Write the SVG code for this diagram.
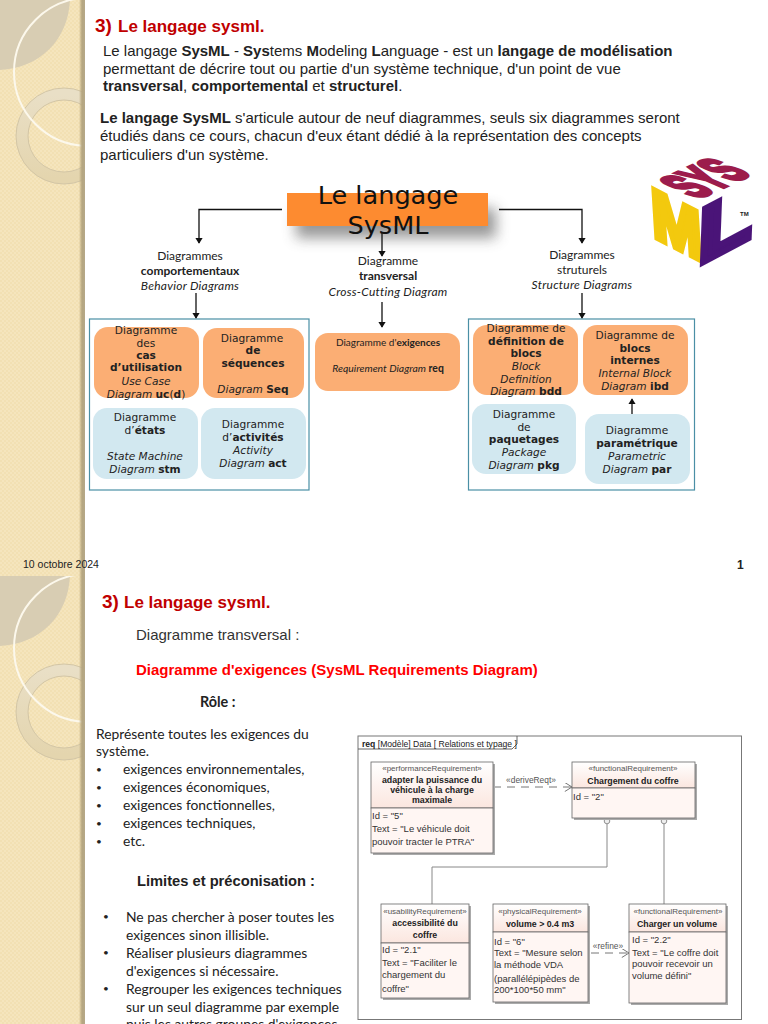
<svg xmlns="http://www.w3.org/2000/svg" width="768" height="1024" viewBox="0 0 768 1024">
<style>
text{font-family:"Liberation Sans",Arial,sans-serif;fill:#222}
.t{font-size:15px}
.red{fill:#c00000;font-weight:bold}
.n text{font-family:"DejaVu Sans",sans-serif;font-size:10.6px;text-anchor:middle;fill:#222}
.l text{font-family:Lato,"Open Sans",sans-serif;font-size:12px;text-anchor:middle;fill:#222}
.l text.i{font-style:italic;font-size:12px;letter-spacing:.25px}
.c{font-size:13.85px;font-family:Lato,"Open Sans",sans-serif}
.u{font-size:10px}
.o{fill:#fbae74}.b{fill:#d2e8f0}
.fr{fill:none;stroke:#4a8fa5;stroke-width:1.2}
.con{fill:none;stroke:#111;stroke-width:1.3}
.da{fill:none;stroke:#777;stroke-dasharray:8 6}
.so{fill:none;stroke:#888}
.pl{fill:#eee;stroke:#777;stroke-width:.8}
.rq rect.s{fill:#aaa}
.rq rect.h{fill:url(#pk);stroke:#666;stroke-width:.8}
.rq rect.w{fill:#fff6f3;stroke:#666;stroke-width:.8}
.rq text{font-size:9.5px;fill:#333}
.rq .m{text-anchor:middle}
.rq .st{font-size:8px;fill:#555}
.rq .bd{font-weight:bold;font-size:8.8px;fill:#222}
.ll{font-size:8.4px;text-anchor:middle;fill:#555}
</style>
<defs>
<pattern id="dots" width="4" height="4" patternUnits="userSpaceOnUse"><rect width="4" height="4" fill="#f5e5bd"/><rect width="2" height="2" fill="#f2e0b3"/><rect x="2" y="2" width="2" height="2" fill="#f2e0b3"/></pattern>
<linearGradient id="edge" x1="0" x2="1" y1="0" y2="0"><stop offset="0" stop-color="#b09c70" stop-opacity="0"/><stop offset=".5" stop-color="#b5a680"/><stop offset="1" stop-color="#b5a888"/></linearGradient>
<linearGradient id="pk" x1="0" x2="0" y1="0" y2="1"><stop offset="0" stop-color="#fff"/><stop offset="1" stop-color="#fbe6df"/></linearGradient>
<linearGradient id="rg" x1="0" x2="0" y1="0" y2="1"><stop offset="0" stop-color="#e9dfc6"/><stop offset="1" stop-color="#e4d5ae"/></linearGradient>
<filter id="sh" x="-20%" y="-60%" width="140%" height="300%"><feGaussianBlur stdDeviation="7"/></filter>
<marker id="ah" viewBox="0 0 8 10" refX="7" refY="5" markerWidth="6" markerHeight="9" markerUnits="userSpaceOnUse" orient="auto-start-reverse"><path d="M0 0L8 5L0 10Z" fill="#111"/></marker>
<marker id="op" viewBox="0 0 8 10" refX="8" refY="5" markerWidth="8" markerHeight="9" markerUnits="userSpaceOnUse" orient="auto"><path d="M0 0L8 5L0 10" fill="none" stroke="#666"/></marker>
<clipPath id="sc"><rect width="85" height="576"/></clipPath>
<g id="strip">
<rect width="85" height="576" fill="url(#dots)"/>
<g clip-path="url(#sc)">
<path d="M0 0H70C68 40 40 68 0 70Z" fill="#d8cdb3"/>
<circle cx="64" cy="136" r="42" fill="none" stroke="url(#rg)" stroke-width="12"/>
<circle cx="64" cy="136" r="48" fill="none" stroke="#d3c6a6" stroke-width="1"/>
<circle cx="64" cy="136" r="36" fill="none" stroke="#d3c6a6" stroke-width="1"/>
<circle cx="88" cy="72" r="74" fill="none" stroke="#fcf8ec" stroke-width="2"/>
</g>
<rect x="79" width="6" height="576" fill="url(#edge)"/>
</g>
</defs>
<rect width="768" height="1024" fill="#fff"/>
<use href="#strip"/>
<use href="#strip" y="576"/>

<text x="95" y="32" class="red" font-size="19">3)</text>
<text x="118" y="32" class="red" font-size="17">Le langage sysml.</text>
<text class="t" x="103" y="56">Le langage <tspan font-weight="bold">SysML</tspan> - <tspan font-weight="bold">Sys</tspan>tems <tspan font-weight="bold">M</tspan>odeling <tspan font-weight="bold">L</tspan>anguage - est un <tspan font-weight="bold">langage de modélisation</tspan></text>
<text class="t" x="103" y="74">permettant de décrire tout ou partie d'un système technique, d'un point de vue</text>
<text class="t" x="103" y="91"><tspan font-weight="bold">transversal</tspan>, <tspan font-weight="bold">comportemental</tspan> et <tspan font-weight="bold">structurel</tspan>.</text>
<text class="t" x="100" y="123"><tspan font-weight="bold">Le langage SysML</tspan> s'articule autour de neuf diagrammes, seuls six diagrammes seront</text>
<text class="t" x="100" y="141">étudiés dans ce cours, chacun d'eux étant dédié à la représentation des concepts</text>
<text class="t" x="100" y="160">particuliers d'un système.</text>

<g id="logo" font-size="100" font-weight="bold" stroke-linejoin="miter">
<text transform="matrix(.6 .306 .043 .7 653 236)" style="fill:#f3c90e;stroke:#f3c90e;stroke-width:9">M</text>
<text transform="matrix(.86 -.456 -.03 .78 698 265)" style="fill:#4a1478;stroke:#4a1478;stroke-width:9">L</text>
<text transform="matrix(.275 -.125 .58 .246 697 199)" style="fill:#9c1c4c;stroke:#9c1c4c;stroke-width:9">SYS</text>
<text x="740" y="216" font-size="6">TM</text>
</g>

<g id="root">
<rect x="296" y="208" width="200" height="30" fill="#444" opacity=".55" filter="url(#sh)"/>
<rect x="287" y="193" width="201" height="33" fill="#fd8b30"/>
<text x="388" y="204" text-anchor="middle" font-size="25.6" style="font-family:'DejaVu Sans',sans-serif;fill:#111">Le langage</text>
<text x="388" y="234" text-anchor="middle" font-size="25.6" style="font-family:'DejaVu Sans',sans-serif;fill:#111">SysML</text>
</g>

<g id="head-comportementaux" class="l"><text x="190" y="260">Diagrammes</text><text x="190" y="275" font-weight="bold">comportementaux</text><text class="i" x="190" y="290">Behavior Diagrams</text></g>
<g id="head-transversal" class="l"><text x="388" y="265">Diagramme</text><text x="388" y="280" font-weight="bold">transversal</text><text class="i" x="388" y="296">Cross-Cutting Diagram</text></g>
<g id="head-structurels" class="l"><text x="582" y="259">Diagrammes</text><text x="582" y="274">struturels</text><text class="i" x="582" y="289">Structure Diagrams</text></g>

<rect id="frame-left" class="fr" x="89.500" y="319" width="219.500" height="171"/>
<rect id="frame-right" class="fr" x="468.500" y="319" width="226" height="171"/>

<g id="n-uc" class="n"><rect class="o" x="94" y="327" width="105" height="71" rx="14"/>
<text x="146" y="334">Diagramme</text><text x="146" y="347">des</text><text x="146" y="359" font-weight="bold">cas</text><text x="146" y="371" font-weight="bold">d’utilisation</text><text x="146" y="385" font-style="italic">Use Case</text><text x="146" y="398"><tspan font-style="italic">Diagram</tspan> <tspan font-weight="bold">uc</tspan>(<tspan font-weight="bold">d</tspan>)</text></g>
<g id="n-seq" class="n"><rect class="o" x="203" y="328" width="101" height="70" rx="14"/>
<text x="252" y="342">Diagramme</text><text x="253" y="354" font-weight="bold">de</text><text x="253" y="367" font-weight="bold">séquences</text><text x="253" y="393"><tspan font-style="italic">Diagram</tspan> <tspan font-weight="bold">Seq</tspan></text></g>
<g id="n-stm" class="n"><rect class="b" x="93" y="408" width="105" height="71" rx="14"/>
<text x="145" y="421">Diagramme</text><text x="145" y="434">d’<tspan font-weight="bold">états</tspan></text><text x="145" y="460" font-style="italic">State Machine</text><text x="145" y="473"><tspan font-style="italic">Diagram</tspan> <tspan font-weight="bold">stm</tspan></text></g>
<g id="n-act" class="n"><rect class="b" x="201" y="408" width="105" height="71" rx="14"/>
<text x="253" y="428">Diagramme</text><text x="253" y="441">d’<tspan font-weight="bold">activités</tspan></text><text x="253" y="454" font-style="italic">Activity</text><text x="253" y="467"><tspan font-style="italic">Diagram</tspan> <tspan font-weight="bold">act</tspan></text></g>
<g id="n-req" class="l"><rect class="o" x="315" y="333" width="145" height="58" rx="13"/>
<text x="388" y="346" style="font-size:10px">Diagramme d'<tspan font-weight="bold">exigences</tspan></text><text x="388" y="372" style="font-size:10.4px"><tspan font-style="italic">Requirement Diagram</tspan> <tspan font-weight="bold">req</tspan></text></g>
<g id="n-bdd" class="n"><rect class="o" x="473" y="325" width="105" height="70" rx="14"/>
<text x="526" y="332">Diagramme de</text><text x="526" y="345" font-weight="bold">définition de</text><text x="526" y="357" font-weight="bold">blocs</text><text x="526" y="370" font-style="italic">Block</text><text x="526" y="383" font-style="italic">Definition</text><text x="526" y="395"><tspan font-style="italic">Diagram</tspan> <tspan font-weight="bold">bdd</tspan></text></g>
<g id="n-ibd" class="n"><rect class="o" x="583" y="325" width="105" height="70" rx="14"/>
<text x="635" y="339">Diagramme de</text><text x="635" y="352" font-weight="bold">blocs</text><text x="635" y="364" font-weight="bold">internes</text><text x="635" y="377" font-style="italic">Internal Block</text><text x="635" y="390"><tspan font-style="italic">Diagram</tspan> <tspan font-weight="bold">ibd</tspan></text></g>
<g id="n-pkg" class="n"><rect class="b" x="472" y="404" width="104" height="70" rx="14"/>
<text x="524" y="418">Diagramme</text><text x="524" y="431">de</text><text x="524" y="443" font-weight="bold">paquetages</text><text x="524" y="456" font-style="italic">Package</text><text x="524" y="469"><tspan font-style="italic">Diagram</tspan> <tspan font-weight="bold">pkg</tspan></text></g>
<g id="n-par" class="n"><rect class="b" x="585" y="414" width="105" height="70" rx="14"/>
<text x="637" y="434">Diagramme</text><text x="637" y="447" font-weight="bold">paramétrique</text><text x="637" y="460" font-style="italic">Parametric</text><text x="637" y="473"><tspan font-style="italic">Diagram</tspan> <tspan font-weight="bold">par</tspan></text></g>

<text x="23" y="568" font-size="10.500">10 octobre 2024</text>
<text x="737" y="569" font-size="12" font-weight="bold">1</text>

<text x="102" y="608" class="red" font-size="19">3)</text>
<text x="124" y="608" class="red" font-size="17">Le langage sysml.</text>
<text class="t" x="136" y="640" style="fill:#333">Diagramme transversal :</text>
<text x="136" y="675" font-size="15" font-weight="bold" style="fill:#f00">Diagramme d'exigences (SysML Requirements Diagram)</text>
<text class="c" x="200" y="707" font-weight="bold" style="font-size:14.4px">Rôle :</text>
<text class="c" x="96" y="739">Représente toutes les exigences du</text>
<text class="c" x="96" y="756">système.</text>
<text class="c u" x="96" y="773">•</text><text class="c" x="123" y="774">exigences environnementales,</text>
<text class="c u" x="96" y="791">•</text><text class="c" x="123" y="792">exigences économiques,</text>
<text class="c u" x="96" y="809">•</text><text class="c" x="123" y="810">exigences fonctionnelles,</text>
<text class="c u" x="96" y="827">•</text><text class="c" x="123" y="828">exigences techniques,</text>
<text class="c u" x="96" y="845">•</text><text class="c" x="123" y="846">etc.</text>
<text x="137" y="886" font-weight="bold" font-size="14.700">Limites et préconisation :</text>
<text class="c u" x="103" y="920">•</text><text class="c" x="126" y="922">Ne pas chercher à poser toutes les</text>
<text class="c" x="126" y="940">exigences sinon illisible.</text>
<text class="c u" x="103" y="956">•</text><text class="c" x="126" y="958">Réaliser plusieurs diagrammes</text>
<text class="c" x="126" y="976">d'exigences si nécessaire.</text>
<text class="c u" x="103" y="992">•</text><text class="c" x="126" y="994">Regrouper les exigences techniques</text>
<text class="c" x="126" y="1012">sur un seul diagramme par exemple</text>
<text class="c" x="126" y="1029">puis les autres groupes d'exigences</text>

<g id="req-frame">
<rect x="358" y="736" width="383.500" height="283.500" fill="#fff" stroke="#777"/>
<path fill="none" stroke="#555" stroke-width=".9" d="M358 749H512L517 744V736"/>
<text x="362" y="747" font-size="8.600"><tspan font-weight="bold">req</tspan> [Modèle] Data [ Relations et typage ]</text>
</g>

<g id="connectors">
<path class="con" d="M282 209.500H199V243" marker-end="url(#ah)"/>
<path class="con" d="M499 209.500H582V243" marker-end="url(#ah)"/>
<path class="con" d="M382 232V256" marker-end="url(#ah)"/>
<path class="con" d="M196 293V318" marker-end="url(#ah)"/>
<path class="con" d="M382 302V327" marker-end="url(#ah)"/>
<path class="con" d="M582 293V318" marker-end="url(#ah)"/>
<path class="con" d="M632 414V399" marker-end="url(#ah)"/>
<path class="da" d="M493 787H572" marker-end="url(#op)"/>
<text class="ll" x="531" y="783">«deriveReqt»</text>
<path class="da" d="M591 953H629" marker-end="url(#op)"/>
<text class="ll" x="608" y="949">«refine»</text>
<path class="so" d="M607 824V867H432V904M664 824V904"/>
<circle class="pl" cx="607" cy="821" r="2.800"/>
<circle class="pl" cx="664" cy="821" r="2.800"/>
</g>

<g id="rq-a" class="rq"><rect class="s" x="373" y="764" width="122" height="91"/><rect class="h" x="371" y="762" width="122" height="46"/><rect class="w" x="371" y="808" width="122" height="45"/>
<text class="m st" x="432" y="771">«performanceRequirement»</text><text class="m bd" x="432" y="783">adapter la puissance du</text><text class="m bd" x="432" y="793">véhicule à la charge</text><text class="m bd" x="432" y="803">maximale</text>
<text x="372" y="819">Id = "5"</text><text x="372" y="832">Text = "Le véhicule doit</text><text x="372" y="845">pouvoir tracter le PTRA"</text></g>
<g id="rq-b" class="rq"><rect class="s" x="574" y="764" width="123" height="56"/><rect class="h" x="572" y="762" width="123" height="26"/><rect class="w" x="572" y="788" width="123" height="30"/>
<text class="m st" x="633" y="771">«functionalRequirement»</text><text class="m bd" x="633" y="784">Chargement du coffre</text><text x="573" y="800">Id = "2"</text></g>
<g id="rq-c" class="rq"><rect class="s" x="383" y="906" width="88" height="94"/><rect class="h" x="381" y="904" width="88" height="39"/><rect class="w" x="381" y="943" width="88" height="55"/>
<text class="m st" x="425" y="914">«usabilityRequirement»</text><text class="m bd" x="425" y="926">accessibilité du</text><text class="m bd" x="425" y="938">coffre</text>
<text x="382" y="953">Id = "2.1"</text><text x="382" y="966">Text = "Faciliter le</text><text x="382" y="978">chargement du</text><text x="382" y="992">coffre"</text></g>
<g id="rq-d" class="rq"><rect class="s" x="495" y="906" width="95" height="98"/><rect class="h" x="493" y="904" width="95" height="28"/><rect class="w" x="493" y="932" width="95" height="70"/>
<text class="m st" x="540" y="914">«physicalRequirement»</text><text class="m bd" x="540" y="927">volume &gt; 0.4 m3</text>
<text x="494" y="945">Id = "6"</text><text x="494" y="956">Text = "Mesure selon</text><text x="494" y="968">la méthode VDA</text><text x="494" y="982">(parallélépipèdes de</text><text x="494" y="993">200*100*50 mm"</text></g>
<g id="rq-e" class="rq"><rect class="s" x="631" y="906" width="97" height="99"/><rect class="h" x="629" y="904" width="97" height="28"/><rect class="w" x="629" y="932" width="97" height="71"/>
<text class="m st" x="678" y="914">«functionalRequirement»</text><text class="m bd" x="677" y="927">Charger un volume</text>
<text x="632" y="943">Id = "2.2"</text><text x="632" y="956">Text = "Le coffre doit</text><text x="632" y="967">pouvoir recevoir un</text><text x="632" y="979">volume défini"</text></g>
</svg>
